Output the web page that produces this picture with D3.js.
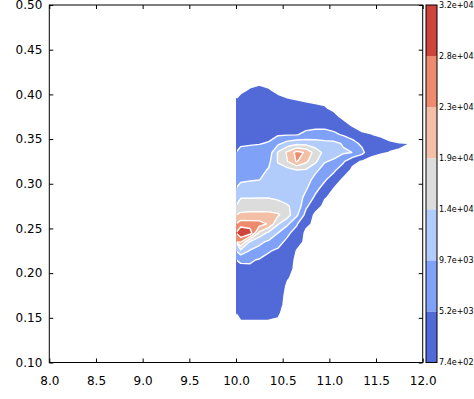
<!DOCTYPE html>
<html>
<head>
<meta charset="utf-8">
<script src="https://cdnjs.cloudflare.com/ajax/libs/d3/7.8.5/d3.min.js"></script>
<style>
    body { margin: 0; background: #fff; }
    text { font-family: "DejaVu Sans", sans-serif; fill: #000; }
</style>
</head>
<body>
<div id="chart"></div>
<script>
//contour levels, colorbar labels, band colours (coolwarm)
var levels = [740, 5206, 9671, 14137, 18603, 23069, 27534, 32000];
var levelLabels = ["7.4e+02", "5.2e+03", "9.7e+03", "1.4e+04", "1.9e+04", "2.3e+04", "2.8e+04", "3.2e+04"];
var bandColors = ["#516ad8", "#7fa1f7", "#b1cbfa", "#dddcdc", "#f3bfa6", "#ee8a6d", "#cf453c"];

var xTicks = [8.0, 8.5, 9.0, 9.5, 10.0, 10.5, 11.0, 11.5, 12.0];
var xTickLabels = ["8.0", "8.5", "9.0", "9.5", "10.0", "10.5", "11.0", "11.5", "12.0"];
var yTicks = [0.10, 0.15, 0.20, 0.25, 0.30, 0.35, 0.40, 0.45, 0.50];
var yTickLabels = ["0.10", "0.15", "0.20", "0.25", "0.30", "0.35", "0.40", "0.45", "0.50"];

//extent of the density grid (cell edges)
var gridX = [10.0, 12.0];
var gridY = [0.14, 0.42];

//density in thousands, one array per x column (x = 10.05 ... 11.95)
//each column runs from y = 0.415 down to y = 0.145
var densityK = [
    [0, 0.4, 1.2, 1.9, 2.7, 3.4, 4.2,
     4.9, 5.8, 6.9, 8.0, 9.0, 10.9, 13.8,
     16.5, 19.5, 25.5, 31.5, 23.5, 13.0, 5.7,
     4.5, 3.9, 3.2, 2.6, 1.9, 1.3, 0.6],
    [0.2, 0.9, 1.6, 2.3, 3.0, 3.6, 4.3,
     5.0, 6.0, 7.1, 8.2, 9.3, 11.2, 13.8,
     16.5, 19.8, 25.0, 30.0, 13.6, 9.3, 5.7,
     4.6, 4.0, 3.3, 2.6, 2.0, 1.3, 0.6],
    [0.44, 1.1, 1.8, 2.5, 3.1, 3.8, 4.5,
     5.1, 6.2, 7.3, 8.4, 9.5, 11.5, 13.9,
     16.5, 19.8, 24.8, 17.5, 10.5, 8.5, 4.9,
     4.4, 3.8, 3.2, 2.6, 1.9, 1.3, 0.6],
    [0.15, 0.9, 1.6, 2.4, 3.1, 3.8, 4.5,
     5.4, 7.0, 8.6, 10.1, 11.4, 12.7, 14.0,
     15.5, 20.3, 22.5, 13.0, 9.0, 5.4, 4.6,
     4.1, 3.5, 2.9, 2.4, 1.8, 1.2, 0.6],
    [0, 0.3, 1.2, 2.1, 2.9, 3.8, 4.7,
     8.8, 14.6, 14.5, 12.5, 11.5, 11.5, 13.2,
     16.0, 19.2, 14.5, 9.7, 6.2, 4.8, 4.3,
     3.7, 3.2, 2.6, 2.1, 1.6, 1.0, 0.5],
    [0, 0, 0.84, 1.8, 2.8, 3.8, 4.8,
     11.5, 19.3, 18.5, 12.2, 11.0, 11.0, 12.5,
     14.5, 16.0, 10.5, 5.9, 4.5, 3.6, 2.7,
     1.9, 1.0, 0.3, 0, 0, 0, 0],
    [0, 0, 0.63, 1.7, 2.8, 3.9, 5.0,
     12.8, 24.5, 23.5, 13.8, 12.0, 11.5, 12.0,
     12.8, 10.5, 5.6, 3.8, 2.2, 0.6, 0,
     0, 0, 0, 0, 0, 0, 0],
    [0, 0, 0.3, 1.6, 2.8, 4.1, 6.1,
     12.6, 22.5, 19.5, 13.5, 11.5, 10.2, 8.5,
     6.0, 3.7, 1.6, 0, 0, 0, 0,
     0, 0, 0, 0, 0, 0, 0],
    [0, 0, 0, 1.4, 2.7, 4.1, 6.8,
     11.8, 16.5, 15.0, 10.5, 8.4, 6.5, 4.5,
     2.3, 0, 0, 0, 0, 0, 0,
     0, 0, 0, 0, 0, 0, 0],
    [0, 0, 0, 1.0, 2.5, 4.1, 6.9,
     11.0, 13.0, 10.0, 7.9, 5.8, 3.6, 1.0,
     0, 0, 0, 0, 0, 0, 0,
     0, 0, 0, 0, 0, 0, 0],
    [0, 0, 0, 0, 1.7, 3.6, 6.0,
     10.9, 11.3, 9.0, 5.8, 3.2, 0.7, 0,
     0, 0, 0, 0, 0, 0, 0,
     0, 0, 0, 0, 0, 0, 0],
    [0, 0, 0, 0, 0, 2.2, 4.7,
     9.2, 10.3, 5.8, 2.8, 0.2, 0, 0,
     0, 0, 0, 0, 0, 0, 0,
     0, 0, 0, 0, 0, 0, 0],
    [0, 0, 0, 0, 0, 0.5, 3.1,
     6.8, 9.6, 1.6, 0, 0, 0, 0,
     0, 0, 0, 0, 0, 0, 0,
     0, 0, 0, 0, 0, 0, 0],
    [0, 0, 0, 0, 0, 0, 1.1,
     4.2, 6.5, 0.5, 0, 0, 0, 0,
     0, 0, 0, 0, 0, 0, 0,
     0, 0, 0, 0, 0, 0, 0],
    [0, 0, 0, 0, 0, 0, 0.82,
     4.6, 1.5, 0, 0, 0, 0, 0,
     0, 0, 0, 0, 0, 0, 0,
     0, 0, 0, 0, 0, 0, 0],
    [0, 0, 0, 0, 0, 0, 0.3,
     2.1, 0.93, 0, 0, 0, 0, 0,
     0, 0, 0, 0, 0, 0, 0,
     0, 0, 0, 0, 0, 0, 0],
    [0, 0, 0, 0, 0, 0, 0,
     1.06, 0.7, 0, 0, 0, 0, 0,
     0, 0, 0, 0, 0, 0, 0,
     0, 0, 0, 0, 0, 0, 0],
    [0, 0, 0, 0, 0, 0, 0,
     0.8, 0.7, 0, 0, 0, 0, 0,
     0, 0, 0, 0, 0, 0, 0,
     0, 0, 0, 0, 0, 0, 0],
    [0, 0, 0, 0, 0, 0, 0,
     0.75, 0.6, 0, 0, 0, 0, 0,
     0, 0, 0, 0, 0, 0, 0,
     0, 0, 0, 0, 0, 0, 0],
    [0, 0, 0, 0, 0, 0, 0,
     0, 0, 0, 0, 0, 0, 0,
     0, 0, 0, 0, 0, 0, 0,
     0, 0, 0, 0, 0, 0, 0]
];

var width = 474,
    height = 399;

var plot = { left: 49.3, right: 422.7, top: 5, bottom: 362.5 };
var cbar = { left: 426, width: 11 };

var x_scale = d3.scaleLinear()
    .domain([8, 12])
    .range([plot.left, plot.right]);

var y_scale = d3.scaleLinear()
    .domain([0.1, 0.5])
    .range([plot.bottom, plot.top]);

var svg = d3.select("#chart").append("svg")
    .attr("width", width)
    .attr("height", height);

//flatten the columns into a row-major grid for d3.contours
var nx = densityK.length,
    ny = densityK[0].length;
var values = new Array(nx * ny);
densityK.forEach(function (col, i) {
    col.forEach(function (v, j) {
        values[j * nx + i] = v * 1000;
    });
});

var contours = d3.contours()
    .size([nx, ny])
    .thresholds(levels.slice(0, -1))(values);

//grid coords -> data coords -> pixels
var gx = d3.scaleLinear().domain([0, nx]).range(gridX);
var gy = d3.scaleLinear().domain([0, ny]).range([gridY[1], gridY[0]]);
var path = d3.geoPath(d3.geoTransform({
    point: function (px, py) {
        this.stream.point(x_scale(gx(px)), y_scale(gy(py)));
    }
}));

svg.append("clipPath")
    .attr("id", "plotclip")
    .append("rect")
    .attr("x", plot.left)
    .attr("y", plot.top)
    .attr("width", plot.right - plot.left)
    .attr("height", plot.bottom - plot.top);

svg.append("clipPath")
    .attr("id", "lineclip")
    .append("rect")
    .attr("x", x_scale(gridX[0]) + 1)
    .attr("y", plot.top)
    .attr("width", plot.right - x_scale(gridX[0]) - 1)
    .attr("height", plot.bottom - plot.top);

var fills = svg.append("g")
    .attr("clip-path", "url(#plotclip)");

fills.selectAll("path")
    .data(contours)
    .enter().append("path")
    .attr("d", path)
    .attr("fill", function (d, i) { return bandColors[i]; });

//white contour lines, kept off the cut edge at x = 10
svg.append("g")
    .attr("clip-path", "url(#lineclip)")
    .selectAll("path")
    .data(contours)
    .enter().append("path")
    .attr("d", path)
    .attr("fill", "none")
    .attr("stroke", "#fff")
    .attr("stroke-width", 1.4)
    .attr("stroke-linejoin", "round");

//axes, ticks pointing inwards on all four sides
var x_axis = d3.axisBottom(x_scale)
    .tickValues(xTicks)
    .tickFormat(function (d, i) { return xTickLabels[i]; })
    .tickSizeInner(-4)
    .tickSizeOuter(0)
    .tickPadding(14);

var y_axis = d3.axisLeft(y_scale)
    .tickValues(yTicks)
    .tickFormat(function (d, i) { return yTickLabels[i]; })
    .tickSizeInner(-4)
    .tickSizeOuter(0)
    .tickPadding(7);

svg.append("g")
    .attr("class", "x axis")
    .attr("transform", "translate(0," + plot.bottom + ")")
    .call(x_axis);

svg.append("g")
    .attr("class", "y axis")
    .attr("transform", "translate(" + plot.left + ",0)")
    .call(y_axis);

svg.append("g")
    .attr("transform", "translate(0," + plot.top + ")")
    .call(d3.axisTop(x_scale).tickValues(xTicks).tickFormat("").tickSizeInner(-4).tickSizeOuter(0));

svg.append("g")
    .attr("transform", "translate(" + plot.right + ",0)")
    .call(d3.axisRight(y_scale).tickValues(yTicks).tickFormat("").tickSizeInner(-4).tickSizeOuter(0));

svg.selectAll(".axis text")
    .style("font-size", "12px")
    .style("font-family", "'DejaVu Sans', sans-serif");

svg.selectAll(".domain").remove();
svg.selectAll(".tick line").attr("stroke", "#000");

svg.append("rect")
    .attr("x", plot.left)
    .attr("y", plot.top)
    .attr("width", plot.right - plot.left)
    .attr("height", plot.bottom - plot.top)
    .attr("fill", "none")
    .attr("stroke", "#000")
    .attr("stroke-width", 1);

//colorbar
var cb_scale = d3.scaleLinear()
    .domain([levels[0], levels[levels.length - 1]])
    .range([plot.bottom, plot.top]);

var bands = d3.range(levels.length - 1);

svg.append("g")
    .selectAll("rect")
    .data(bands)
    .enter().append("rect")
    .attr("x", cbar.left)
    .attr("y", function (i) { return cb_scale(levels[i + 1]); })
    .attr("width", cbar.width)
    .attr("height", function (i) { return cb_scale(levels[i]) - cb_scale(levels[i + 1]); })
    .attr("fill", function (i) { return bandColors[i]; });

svg.append("rect")
    .attr("x", cbar.left)
    .attr("y", plot.top)
    .attr("width", cbar.width)
    .attr("height", plot.bottom - plot.top)
    .attr("fill", "none")
    .attr("stroke", "#000")
    .attr("stroke-width", 1);

svg.append("g")
    .selectAll("text")
    .data(levels)
    .enter().append("text")
    .attr("x", cbar.left + cbar.width + 2)
    .attr("y", function (d) { return cb_scale(d); })
    .attr("dy", "0.35em")
    .style("font-size", "8px")
    .text(function (d, i) { return levelLabels[i]; });
</script>
</body>
</html>
